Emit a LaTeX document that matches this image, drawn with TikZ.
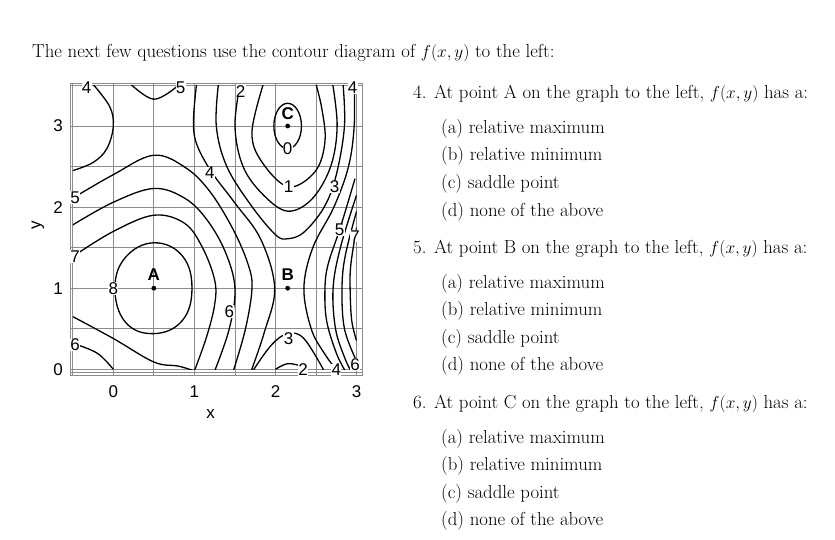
\documentclass[tikz,border=0pt]{standalone}
\usepackage{fontspec}
\newfontfamily\hv{Liberation Sans}
\begin{document}
\begin{tikzpicture}[x=1pt,y=1pt,
  ctr/.style={line width=1.3pt,black},
  gridl/.style={draw=black!45,line width=0.8pt},
  glab/.style={font=\hv\fontsize{17}{17}\selectfont,fill=white,inner sep=0.3pt},
  tlab/.style={font=\hv\fontsize{17}{17}\selectfont,inner sep=0pt},
  ptlab/.style={font=\hv\bfseries\fontsize{17}{17}\selectfont,inner sep=0pt},
  txt/.style={font=\fontsize{18.8}{19}\selectfont,anchor=base west,inner sep=0pt}]
\useasboundingbox (0,0) rectangle (835,-539);
\fill[white] (0,0) rectangle (835,-539);
\node[txt] (title) at (32,-57) {The next few questions use the contour diagram of $f(x,y)$ to the left:};
\node[txt] (q4) at (413,-98) {4. At point A on the graph to the left, $f(x,y)$ has a:};
\node[txt] (q4a) at (441,-133) {(a) relative maximum};
\node[txt] (q4b) at (441,-160) {(b) relative minimum};
\node[txt] (q4c) at (441,-188) {(c) saddle point};
\node[txt] (q4d) at (441,-216) {(d) none of the above};
\node[txt] (q5) at (413,-253) {5. At point B on the graph to the left, $f(x,y)$ has a:};
\node[txt] (q5a) at (441,-288) {(a) relative maximum};
\node[txt] (q5b) at (441,-315) {(b) relative minimum};
\node[txt] (q5c) at (441,-343) {(c) saddle point};
\node[txt] (q5d) at (441,-370) {(d) none of the above};
\node[txt] (q6) at (413,-408) {6. At point C on the graph to the left, $f(x,y)$ has a:};
\node[txt] (q6a) at (441,-443) {(a) relative maximum};
\node[txt] (q6b) at (441,-470) {(b) relative minimum};
\node[txt] (q6c) at (441,-498) {(c) saddle point};
\node[txt] (q6d) at (441,-525) {(d) none of the above};
\begin{scope}[shift={(113.3,-369.3)},x=81.1pt,y=81.1pt]
  % grid
  \foreach \gx in {-0.5,0,0.5,1,1.5,2,2.5,3} \draw[gridl] (\gx,-0.07) -- (\gx,3.53);
  \foreach \gy in {0,0.5,1,1.5,2,2.5,3,3.5} \draw[gridl] (-0.53,\gy) -- (3.07,\gy);
  \draw[gridl] (-0.53,-0.04) -- (3.07,-0.04);
  \draw[gridl] (-0.53,-0.07) rectangle (3.07,3.53);
  \begin{scope}
  \clip (-0.5,0) rectangle (3,3.5);
  % left family
  \draw[ctr] plot[smooth,tension=0.6] coordinates {(-0.28,3.55) (-0.05,3.25) (0,3.0) (-0.08,2.72) (-0.25,2.55) (-0.5,2.45)};
  \draw[ctr] plot[smooth,tension=0.6] coordinates {(0.2,3.53) (0.5,3.33) (0.8,3.5)};
  \draw[ctr] plot[smooth,tension=0.6] coordinates {(-0.5,2.11) (0,2.4) (0.5,2.64) (0.9,2.48) (1.2,2.18) (1.48,1.72) (1.66,1.3) (1.71,1.0) (1.63,0.5) (1.48,-0.02)};
  \draw[ctr] plot[smooth,tension=0.6] coordinates {(-0.5,1.78) (0,2.06) (0.5,2.23) (0.88,2.11) (1.15,1.85) (1.38,1.45) (1.5,1.0) (1.43,0.5) (1.25,-0.02)};
  \draw[ctr] plot[smooth,tension=0.6] coordinates {(-0.5,1.39) (0,1.7) (0.5,1.9) (0.88,1.8) (1.1,1.5) (1.25,1.1) (1.25,0.8) (1.15,0.4) (1.0,-0.02)};
  \draw[ctr] plot[smooth,tension=0.6] coordinates {(-0.5,0.65) (0,0.38) (0.5,0.09) (0.8,0.04) (1.0,-0.02)};
  \draw[ctr] plot[smooth,tension=0.6] coordinates {(-0.5,0.32) (-0.2,0.2) (0,0.0)};
  \draw[ctr] plot[smooth cycle,tension=0.7] coordinates {(0.5,1.56) (0.85,1.4) (0.97,1.0) (0.85,0.6) (0.5,0.44) (0.15,0.58) (0.02,1.0) (0.15,1.38)};
  % C basin
  \draw[ctr] (2.15,3.0) ellipse [x radius=0.17,y radius=0.28];
  \draw[ctr] plot[smooth,tension=0.6] coordinates {(1.86,3.55) (1.71,2.93) (1.83,2.56) (2.16,2.25) (2.49,2.44) (2.61,2.81) (2.57,3.22) (2.49,3.55)};
  \draw[ctr] plot[smooth,tension=0.6] coordinates {(1.57,3.55) (1.5,3.0) (1.6,2.5) (1.85,2.15) (2.15,1.95) (2.45,2.1) (2.68,2.5) (2.76,3.0) (2.7,3.55)};
  \draw[ctr] plot[smooth,tension=0.6] coordinates {(1.3,3.55) (1.27,3.0) (1.4,2.5) (1.7,2.02) (2.0,1.66) (2.15,1.61) (2.35,1.69) (2.6,2.0) (2.75,2.4) (2.85,3.0) (2.83,3.55)};
  \draw[ctr] plot[smooth,tension=0.6] coordinates {(1.03,3.55) (0.99,3.1) (1.02,2.8) (1.2,2.45) (1.5,2.05) (1.82,1.6) (1.99,1.0) (1.86,0.45) (1.7,-0.02)};
  \draw[ctr] plot[smooth,tension=0.6] coordinates {(2.97,3.55) (2.97,3.0) (2.9,2.5) (2.72,2.0) (2.46,1.5) (2.35,1.0) (2.44,0.5) (2.6,0.2) (2.76,-0.02)};
  % right family
  \draw[ctr] plot[smooth,tension=0.6] coordinates {(2.98,2.35) (2.8,1.75) (2.65,1.3) (2.61,1.0) (2.63,0.6) (2.75,0.2) (2.86,-0.02)};
  \draw[ctr] plot[smooth,tension=0.6] coordinates {(3.0,2.15) (2.8,1.5) (2.71,1.0) (2.74,0.5) (2.85,0.15) (2.93,-0.02)};
  \draw[ctr] plot[smooth,tension=0.6] coordinates {(3.0,1.95) (2.86,1.4) (2.82,1.0) (2.85,0.5) (3.0,0.1)};
  \draw[ctr] plot[smooth,tension=0.6] coordinates {(3.0,1.75) (2.93,1.3) (2.92,1.0) (2.94,0.6) (3.0,0.35)};
  % bottom arches
  \draw[ctr] plot[smooth,tension=0.6] coordinates {(1.72,-0.02) (1.95,0.3) (2.15,0.44) (2.35,0.38) (2.6,-0.02)};
  \draw[ctr] plot[smooth,tension=0.6] coordinates {(2.0,0.0) (2.15,0.07) (2.32,0.04)};
  \end{scope}
  % contour labels
  \node[glab] (l4a) at (-0.33,3.47) {4};
  \node[glab] (l5a) at (0.83,3.47) {5};
  \node[glab] (l2a) at (1.57,3.43) {2};
  \node[glab] (l4b) at (2.95,3.47) {4};
  \node[glab] (l0) at (2.15,2.72) {0};
  \node[glab] (l1) at (2.16,2.25) {1};
  \node[glab] (l3a) at (2.73,2.25) {3};
  \node[glab] (l4c) at (1.19,2.42) {4};
  \node[glab] (l5b) at (-0.47,2.12) {5};
  \node[glab] (l5c) at (2.79,1.72) {5};
  \node[glab] (l7a) at (2.98,1.64) {7};
  \node[glab] (l7b) at (-0.47,1.39) {7};
  \node[glab] (l8) at (0.0,1.0) {8};
  \node[glab] (l6a) at (1.43,0.71) {6};
  \node[glab] (l3b) at (2.16,0.38) {3};
  \node[glab] (l6b) at (-0.47,0.3) {6};
  \node[glab] (l2b) at (2.34,0.0) {2};
  \node[glab] (l4d) at (2.75,-0.01) {4};
  \node[glab] (l6c) at (2.98,0.06) {6};
  % points
  \fill (0.5,1) circle (2.4pt);
  \fill (2.15,1) circle (2.4pt);
  \fill (2.15,3) circle (2.4pt);
  \node[ptlab] (pa) at (0.5,1.17) {A};
  \node[ptlab] (pb) at (2.15,1.17) {B};
  \node[ptlab] (pc) at (2.15,3.15) {C};
  % axes labels
  \foreach \t in {0,1,2,3} \node[tlab] at (-0.68,\t) {\t};
  \foreach \t in {0,1,2,3} \node[tlab] at (\t,-0.27) {\t};
  \node[tlab,rotate=90] (ylab) at (-0.93,1.78) {y};
  \node[tlab] (xlab) at (1.2,-0.55) {x};
\end{scope}
\end{tikzpicture}
\end{document}
